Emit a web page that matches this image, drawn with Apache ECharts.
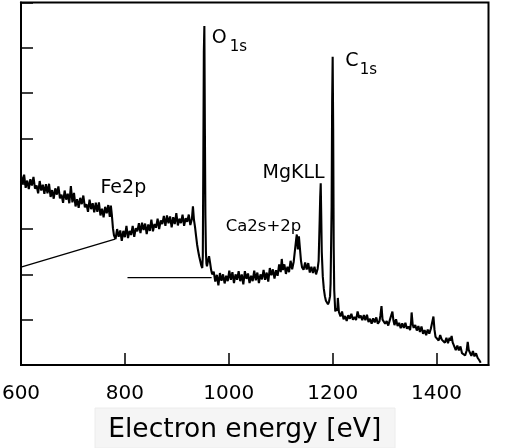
<!DOCTYPE html>
<html>
<head>
<meta charset="utf-8">
<script src="https://cdn.jsdelivr.net/npm/echarts@6/dist/echarts.min.js"></script>
<style>
html,body{margin:0;padding:0;background:#ffffff;}
#chart{width:520px;height:448px;}
</style>
</head>
<body>
<div id="chart"></div>
<script>
// XPS survey spectrum: [electron energy (eV), intensity (arb. units)]
const spectrum = [
[600,4.19],[603,4.00],[606,4.20],[609,3.91],[612,4.07],[615,3.88],[618,4.10],[621,3.96],
[624,4.15],[627,3.89],[630,3.96],[633,3.79],[636,4.06],[639,3.85],[642,3.98],[645,3.78],
[648,3.99],[651,3.79],[654,4.00],[657,3.71],[660,3.86],[663,3.67],[666,3.90],[669,3.76],
[672,3.94],[675,3.68],[678,3.76],[681,3.58],[684,3.85],[687,3.65],[690,3.78],[693,3.57],
[696,3.95],[699,3.59],[702,3.80],[705,3.50],[708,3.66],[711,3.47],[714,3.69],[717,3.55],
[720,3.74],[723,3.48],[726,3.55],[729,3.38],[732,3.65],[735,3.44],[738,3.57],[741,3.37],
[744,3.58],[747,3.38],[750,3.59],[753,3.30],[756,3.45],[759,3.26],[762,3.49],[765,3.35],
[768,3.53],[771,3.27],[773,3.52],[775,3.30],[777,3.02],[779,2.86],
[782,2.78],[785,3.00],[788,2.83],[791,2.97],[794,2.74],[797,2.96],[800,2.82],[803,3.07],
[806,2.80],[809,2.96],[812,2.87],[815,3.07],[818,2.83],[821,3.02],[824,2.95],[827,3.13],
[830,2.91],[833,3.14],[836,2.98],[839,3.12],[842,2.89],[845,3.10],[848,2.96],[851,3.21],
[854,2.95],[857,3.11],[860,3.03],[863,3.23],[866,3.00],[869,3.19],[872,3.11],[875,3.29],
[878,3.07],[881,3.30],[884,3.13],[887,3.28],[890,3.04],[893,3.26],[896,3.11],[899,3.35],
[902,3.08],[905,3.23],[908,3.13],[911,3.32],[914,3.07],[917,3.24],[920,3.16],[923,3.32],
[926,3.09],[929,3.22],[931,3.50],[933,3.20],[935,3.05],[937,2.85],[939,2.66],[941,2.52],
[943,2.40],[945,2.30],[947,2.20],[949,2.14],[950,2.40],[951,4.50],[952,6.90],[953,7.48],
[954,5.20],[955,3.30],[956,2.50],[957,2.24],[958,2.18],[960,2.30],[962,2.40],[964,2.26],
[966,2.10],[968,2.00],
[971,2.06],[974,1.84],[977,1.99],[980,1.76],[983,2.03],[986,1.86],[989,2.00],[992,1.80],
[995,1.97],[998,1.85],[1001,2.08],[1004,1.88],[1007,2.05],[1010,1.81],[1013,2.00],[1016,1.88],
[1019,2.07],[1022,1.85],[1025,2.00],[1028,1.78],[1031,2.07],[1034,1.90],[1037,2.02],[1040,1.81],
[1043,1.97],[1046,1.85],[1049,2.08],[1052,1.87],[1055,2.04],[1058,1.81],[1061,2.00],[1064,1.89],
[1067,2.10],[1070,1.88],[1073,2.04],[1076,1.84],[1079,2.14],[1082,1.98],[1085,2.11],[1088,1.91],
[1091,2.09],[1094,1.97],[1097,2.22],[1100,2.05],[1102,2.34],[1104,2.10],[1107,2.22],[1110,2.01],
[1113,2.17],[1116,2.05],[1119,2.30],[1122,2.11],[1125,2.28],[1128,2.24],[1130,2.80],[1131,2.88],
[1133,2.55],[1135,2.84],[1137,2.80],[1139,2.30],[1141,2.16],[1144,2.10],[1147,2.26],[1150,2.11],
[1153,2.25],[1156,2.04],[1159,2.17],[1162,2.03],[1165,2.17],[1168,2.00],[1171,2.12],[1173,2.30],
[1175,3.20],[1176,3.70],[1177,4.01],[1178,3.30],[1179,2.50],[1181,1.95],[1183,1.68],[1185,1.52],
[1187,1.42],[1189,1.38],[1191,1.34],[1193,1.40],[1195,1.52],[1196,1.80],[1198,3.50],[1199,5.80],
[1200,6.80],[1201,5.20],[1202,2.60],[1203,1.65],[1205,1.18],[1207,1.25],[1209,1.20],[1210,1.48],
[1212,1.17],[1215,1.07],[1218,1.18],[1221,1.01],[1224,1.08],[1227,0.97],[1230,1.10],[1233,1.02],
[1236,1.13],[1239,1.00],[1242,1.06],[1245,0.99],[1248,1.18],[1251,1.04],[1254,1.09],[1257,0.99],
[1260,1.10],[1263,0.99],[1266,1.11],[1269,0.95],[1272,1.02],[1275,0.91],[1278,1.03],[1281,0.94],
[1284,1.05],[1287,0.91],[1290,0.96],[1292,1.10],[1294,1.30],[1296,1.00],[1298,1.00],[1301,0.91],
[1304,0.97],[1307,0.87],[1310,0.99],[1313,0.95],[1315,1.18],[1317,0.98],[1319,0.88],[1322,1.01],
[1325,0.86],[1328,0.93],[1331,0.81],[1334,0.92],[1337,0.82],[1340,0.93],[1343,0.80],[1346,0.85],
[1349,0.77],[1351,0.95],[1352,1.16],[1354,0.90],[1356,0.82],[1359,0.88],[1362,0.76],[1365,0.86],
[1368,0.73],[1371,0.85],[1374,0.69],[1377,0.77],[1380,0.66],[1383,0.78],[1386,0.69],[1389,0.80],
[1392,0.80],[1394,1.07],[1396,0.78],[1398,0.62],[1401,0.64],[1404,0.54],[1407,0.66],[1410,0.56],
[1413,0.60],[1416,0.49],[1419,0.60],[1422,0.48],[1425,0.60],[1427,0.54],[1429,0.64],[1431,0.50],
[1434,0.47],[1437,0.33],[1440,0.43],[1443,0.32],[1446,0.41],[1449,0.26],[1452,0.30],[1455,0.21],
[1458,0.32],[1460,0.51],[1462,0.33],[1464,0.31],[1467,0.20],[1470,0.31],[1473,0.19],[1476,0.26],
[1479,0.16],[1482,0.11],[1485,0.05]
];

// Background lines drawn under the Fe2p and O1s regions
const fe2pBackground = [[600, 2.16], [781, 2.78]];
const o1sBackground = [[805, 1.93], [967, 1.93]];

// Peak annotations (text, anchor in data coordinates, role)
const peakLabels = [
  { text: 'O', at: [967, 7.22], role: 'main' },
  { text: '1s', at: [1002, 7.02], role: 'sub' },
  { text: 'C', at: [1224, 6.71], role: 'main' },
  { text: '1s', at: [1252, 6.51], role: 'sub' },
  { text: 'MgKLL', at: [1065, 4.23], role: 'name' },
  { text: 'Ca2s+2p', at: [994, 3.05], role: 'small' },
  { text: 'Fe2p', at: [753, 3.90], role: 'name' }
];

const xAxisTitle = 'Electron energy [eV]';
const xMin = 600, xMax = 1500, xStep = 200;
const yMin = 0, yMax = 8, yStep = 1;

const FONT = 'DejaVu Sans';
const labelSizes = { main: 19, sub: 15, name: 19, small: 16.5 };
const chart = echarts.init(document.getElementById('chart'), null, { renderer: 'canvas' });

const lineSeries = (data, width) => ({
  type: 'line', data: data, showSymbol: false, symbol: 'none',
  lineStyle: { color: '#000', width: width }, silent: true, animation: false
});

chart.setOption({
  backgroundColor: '#ffffff',
  animation: false,
  grid: { left: 21, right: 31.5, top: 2.5, bottom: 83, show: true, borderColor: '#000', borderWidth: 2, containLabel: false, outerBoundsMode: 'none' },
  xAxis: {
    type: 'value', min: xMin, max: xMax, interval: xStep,
    axisLine: { show: true, lineStyle: { color: '#000', width: 2 } },
    axisTick: { show: true, inside: true, length: 12, lineStyle: { color: '#000', width: 1.5 } },
    axisLabel: { show: true, margin: 19, color: '#000', fontFamily: FONT, fontSize: 20, showMaxLabel: false,
      formatter: function (v) { return String(v); } },
    splitLine: { show: false },
    name: xAxisTitle, nameLocation: 'middle', nameGap: 52,
    nameTextStyle: { color: '#000', fontFamily: FONT, fontSize: 26.5, padding: [0, 20, 0, 0] }
  },
  yAxis: {
    type: 'value', min: yMin, max: yMax, interval: yStep,
    axisLine: { show: true, lineStyle: { color: '#000', width: 2 } },
    axisTick: { show: true, inside: true, length: 12, lineStyle: { color: '#000', width: 1.5 } },
    axisLabel: { show: false },
    splitLine: { show: false }
  },
  series: [
    lineSeries(spectrum, 2.1),
    lineSeries(fe2pBackground, 1.3),
    lineSeries(o1sBackground, 1.3)
  ]
});

const graphics = [
  { type: 'rect', shape: { x: 95, y: 408, width: 300, height: 40 }, style: { fill: '#f5f5f5', stroke: '#ececec', lineWidth: 1 }, z: -10, silent: true }
];
peakLabels.forEach(function (lb) {
  const p = chart.convertToPixel({ gridIndex: 0 }, lb.at);
  graphics.push({
    type: 'text', x: p[0], y: p[1], silent: true, z: 100,
    style: {
      text: lb.text, fill: '#000', fontFamily: FONT,
      fontSize: labelSizes[lb.role],
      align: 'left', verticalAlign: 'middle'
    }
  });
});
chart.setOption({ graphic: graphics });
</script>
</body>
</html>
